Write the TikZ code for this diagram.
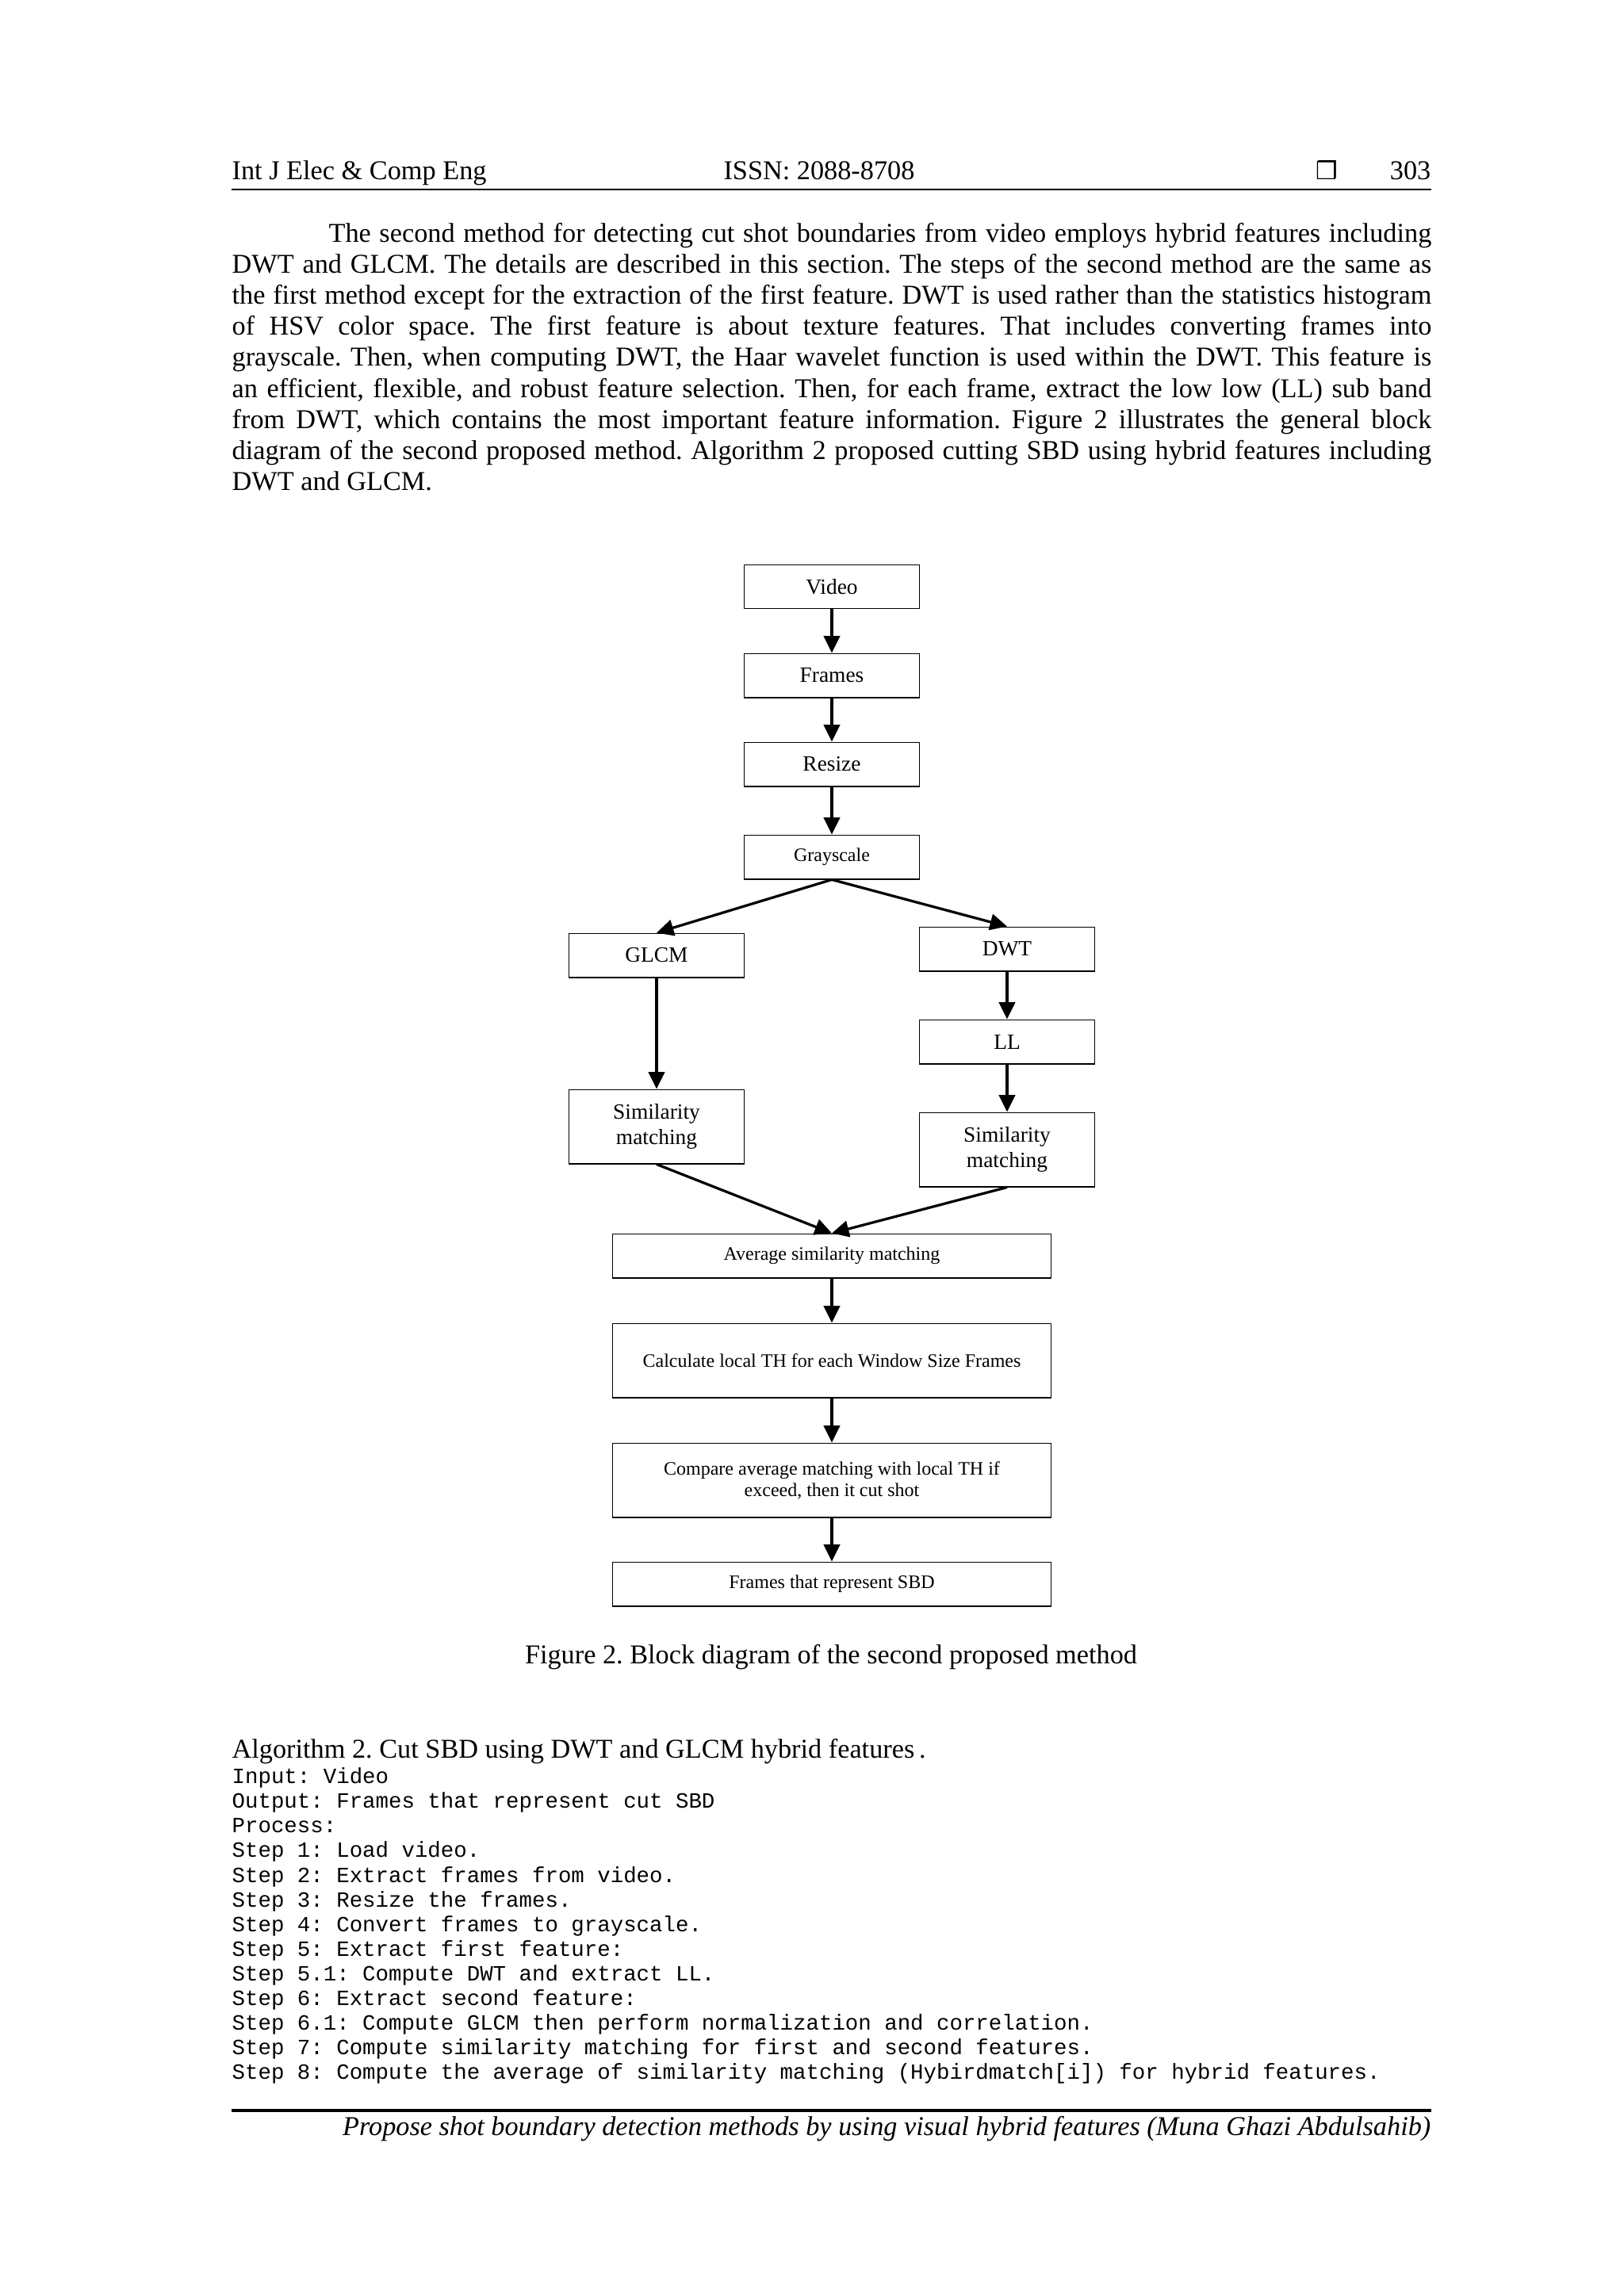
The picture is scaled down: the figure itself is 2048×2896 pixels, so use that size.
\documentclass[tikz,border=0pt]{standalone}
\usepackage{fontspec}
\setmainfont{Liberation Serif}
\setmonofont{Liberation Mono}
\newfontfamily\dingfont{DejaVu Sans}
\usetikzlibrary{arrows.meta}
\frenchspacing

\tikzset{
  blk/.style={draw, line width=0.4pt, minimum width=22.6mm, minimum height=5.7mm,
    inner sep=1pt, align=center, font=\fontsize{8}{9.2}\selectfont},
  wideblk/.style={blk, minimum width=56.7mm, font=\fontsize{7}{7.9}\selectfont},
  flow/.style={->, line width=0.95pt},
  txt/.style={inner sep=0pt},
}

\begin{document}
\begin{tikzpicture}[>={Triangle[length=2.2mm, width=2.1mm]},
    x=0.1025390625mm, y=-0.1025390625mm, font=\fontsize{10}{11.4}\selectfont]
  % Page (A4, one unit = one pixel of the scan)
  \fill[white] (0,0) rectangle (2048,2896);
  \useasboundingbox (0,0) rectangle (2048,2896);
  % Running head
  \node[txt, anchor=base west] (jrnl) at (292,226) {Int J Elec \& Comp Eng};
  \node[txt, anchor=base] (issn) at (1033,226) {ISSN: 2088-8708};
  \node[txt, anchor=base east] (pageno) at (1805,226) {303};
  \node[txt, font=\dingfont\bfseries\fontsize{9}{9}\selectfont] (mark) at (1673,214) {❒};
  \draw[line width=0.6pt] (292,239) -- (1805,239);
  % Body text
  \node[txt, anchor=north west, text width=155.1mm, align=justify] (para) at (292,277.6)
    {\strut\hspace*{12.5mm}The second method for detecting cut shot boundaries from video employs hybrid features including\linebreak
     DWT and GLCM. The details are described in this section. The steps of the second method are the same as\linebreak
     the first method except for the extraction of the first feature. DWT is used rather than the statistics histogram\linebreak
     of HSV color space. The first feature is about texture features. That includes converting frames into\linebreak
     grayscale. Then, when computing DWT, the Haar wavelet function is used within the DWT. This feature is\linebreak
     an efficient, flexible, and robust feature selection. Then, for each frame, extract the low low (LL) sub band\linebreak
     from DWT, which contains the most important feature information. Figure 2 illustrates the general block\linebreak
     diagram of the second proposed method. Algorithm 2 proposed cutting SBD using hybrid features including\linebreak
     DWT and GLCM.};
  % Block diagram
  \node[blk] (video) at (1049,740) {Video};
  \node[blk] (frames) at (1049,852) {Frames};
  \node[blk] (resize) at (1049,964) {Resize};
  \node[blk, font=\fontsize{7}{8}\selectfont] (gray) at (1049,1081) {Grayscale};
  \node[blk] (glcm) at (828,1205) {GLCM};
  \node[blk] (dwt) at (1270,1197) {DWT};
  \node[blk] (ll) at (1270,1314) {LL};
  \node[blk, minimum height=9.6mm] (simglcm) at (828,1421) {Similarity\\matching};
  \node[blk, minimum height=9.6mm] (simdwt) at (1270,1450) {Similarity\\matching};
  \node[wideblk] (avg) at (1049,1584) {Average similarity matching};
  \node[wideblk, minimum height=9.6mm] (th) at (1049,1716) {Calculate local TH for each Window Size Frames};
  \node[wideblk, minimum height=9.6mm] (cmp) at (1049,1867) {Compare average matching with local TH if\\exceed, then it cut shot};
  \node[wideblk] (sbd) at (1049,1998) {Frames that represent SBD};
  % Connectors
  \draw[flow] (video.south) -- (frames.north);
  \draw[flow] (frames.south) -- (resize.north);
  \draw[flow] (resize.south) -- (gray.north);
  \draw[flow] (gray.south) -- (glcm.north);
  \draw[flow] (gray.south) -- (dwt.north);
  \draw[flow] (dwt.south) -- (ll.north);
  \draw[flow] (ll.south) -- (simdwt.north);
  \draw[flow] (glcm.south) -- (simglcm.north);
  \draw[flow] (simglcm.south) -- (avg.north);
  \draw[flow] (simdwt.south) -- (avg.north);
  \draw[flow] (avg.south) -- (th.north);
  \draw[flow] (th.south) -- (cmp.north);
  \draw[flow] (cmp.south) -- (sbd.north);
  % Caption
  \node[txt, anchor=base] (caption) at (1048,2098) {Figure 2. Block diagram of the second proposed method};
  % Algorithm
  \node[txt, anchor=base west] (algtitle) at (292,2217) {Algorithm 2. Cut SBD using DWT and GLCM hybrid features\,.};
  \node[txt, anchor=north west, align=left, font=\ttfamily\fontsize{8}{9.07}\selectfont] (steps) at (292,2227.2)
    {\strut Input: Video\\
     Output: Frames that represent cut SBD\\
     Process:\\
     Step 1: Load video.\\
     Step 2: Extract frames from video.\\
     Step 3: Resize the frames.\\
     Step 4: Convert frames to grayscale.\\
     Step 5: Extract first feature:\\
     Step 5.1: Compute DWT and extract LL.\\
     Step 6: Extract second feature:\\
     Step 6.1: Compute GLCM then perform normalization and correlation.\\
     Step 7: Compute similarity matching for first and second features.\\
     Step 8: Compute the average of similarity matching (Hybirdmatch[i]) for hybrid features.};
  % Running foot
  \draw[line width=0.9pt] (292,2662) -- (1805,2662);
  \node[txt, anchor=base east, font=\itshape\fontsize{10}{11.4}\selectfont] (foot) at (1805,2693)
    {Propose shot boundary detection methods by using visual hybrid features (Muna Ghazi Abdulsahib)};
\end{tikzpicture}
\end{document}
